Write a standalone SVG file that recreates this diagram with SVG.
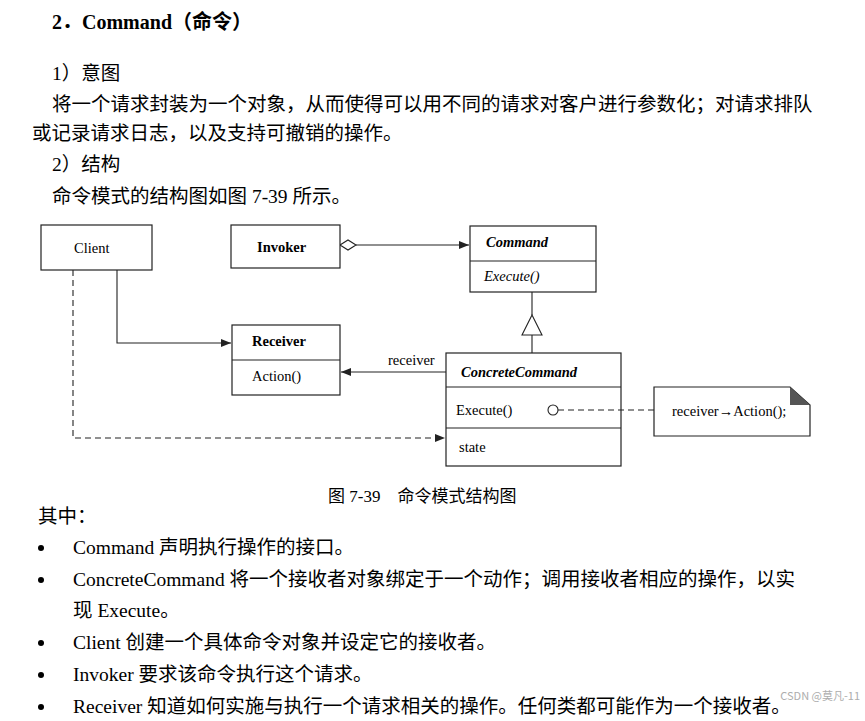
<svg xmlns="http://www.w3.org/2000/svg" width="865" height="721" viewBox="0 0 865 721">
<style>
.t{font-family:"Liberation Serif","Noto Sans CJK SC",serif;font-size:19.5px;fill:#000}
.d{font-family:"Liberation Serif",serif;font-size:14.5px;fill:#000}
.b{fill:#fff;stroke:#222;stroke-width:1.2}
.l{fill:none;stroke:#222;stroke-width:1.1}
.ds{stroke-dasharray:6,4}
.u{fill:#000}
</style>
<defs>
<marker id="a" markerWidth="10" markerHeight="8" refX="10" refY="4" orient="auto" markerUnits="userSpaceOnUse"><path d="M0,0 L10,4 L0,8 z" fill="#222"/></marker>
</defs>
<rect width="865" height="721" fill="#fff"/>
<text class="t" x="52" y="29" font-weight="bold" style="font-size:20px">2．Command（命令）</text>
<text class="t" x="52" y="80">1）意图</text>
<text class="t" x="52" y="111">将一个请求封装为一个对象，从而使得可以用不同的请求对客户进行参数化；对请求排队</text>
<text class="t" x="32" y="140">或记录请求日志，以及支持可撤销的操作。</text>
<text class="t" x="52" y="171">2）结构</text>
<text class="t" x="52" y="203">命令模式的结构图如图 7-39 所示。</text>
<g id="connectors">
<path class="l" d="M117,270 V343 H231" marker-end="url(#a)"/>
<path class="l ds" d="M73,270 V438 H445" marker-end="url(#a)"/>
<path class="l" d="M356,245 H469" marker-end="url(#a)"/>
<path class="l" d="M340,245 l8,-5 l8,5 l-8,5 z" fill="#fff"/>
<path class="l" d="M532,292 V315 M532,335 V353"/>
<path class="l" d="M532,315 l-10,20 h20 z" fill="#fff"/>
<path class="l" d="M446,372 H341" marker-end="url(#a)"/>
<text class="d" x="388" y="365">receiver</text>
</g>
<g id="client"><rect class="b" x="41" y="225" width="111" height="45"/><text class="d" x="74" y="253">Client</text></g>
<g id="invoker"><rect class="b" x="231" y="225" width="109" height="43"/><text class="d" x="257" y="252" font-weight="bold">Invoker</text></g>
<g id="command"><rect class="b" x="470" y="226" width="126" height="66"/><line class="l" x1="470" y1="261" x2="596" y2="261"/><text class="d" x="486" y="247" font-weight="bold" font-style="italic">Command</text><text class="d" x="484" y="281" font-style="italic">Execute()</text></g>
<g id="receiver"><rect class="b" x="232" y="325" width="108" height="70"/><line class="l" x1="232" y1="360" x2="340" y2="360"/><text class="d" x="252" y="346" font-weight="bold">Receiver</text><text class="d" x="252" y="381">Action()</text></g>
<g id="concrete"><rect class="b" x="446" y="353" width="175" height="113"/><line class="l" x1="446" y1="387" x2="621" y2="387"/><line class="l" x1="446" y1="428" x2="621" y2="428"/><text class="d" x="461" y="377" font-weight="bold" font-style="italic">ConcreteCommand</text><text class="d" x="456" y="415">Execute()</text><text class="d" x="459" y="452">state</text></g>
<g id="note"><path class="b" d="M654,387 H790 L810,405 V436 H654 z"/><path d="M790,387 L810,405 H790 z" fill="#555"/><text class="d" x="672" y="416">receiver→Action();</text></g>
<g id="note-link"><circle class="l" cx="553" cy="410" r="5" fill="#fff"/><path class="l ds" d="M558,410 H654"/></g>
<text class="t" x="328" y="502" style="font-size:17px">图 7-39　命令模式结构图</text>
<text class="t" x="38" y="523">其中：</text>
<g>
<circle class="u" cx="41" cy="548" r="3"/><circle class="u" cx="41" cy="580" r="3"/><circle class="u" cx="41" cy="643" r="3"/><circle class="u" cx="41" cy="675" r="3"/><circle class="u" cx="41" cy="707" r="3"/>
</g>
<g class="t">
<text x="73" y="554">Command 声明执行操作的接口。</text>
<text x="73" y="586">ConcreteCommand 将一个接收者对象绑定于一个动作；调用接收者相应的操作，以实</text>
<text x="73" y="617">现 Execute。</text>
<text x="73" y="649">Client 创建一个具体命令对象并设定它的接收者。</text>
<text x="73" y="681">Invoker 要求该命令执行这个请求。</text>
<text x="73" y="713">Receiver 知道如何实施与执行一个请求相关的操作。任何类都可能作为一个接收者。</text>
</g>
<text x="860" y="700" text-anchor="end" font-family="Noto Sans CJK SC,sans-serif" font-size="11" fill="#999" opacity="0.8">CSDN @莫凡-11</text>
</svg>
